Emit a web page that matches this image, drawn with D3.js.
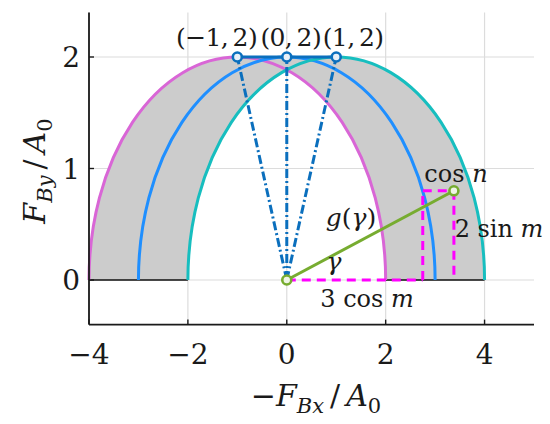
<!DOCTYPE html>
<html>
<head>
<meta charset="utf-8">
<script src="https://cdn.jsdelivr.net/npm/d3@7"></script>
<style>
  body { margin: 0; background: #fff; }
  text { font-family: "DejaVu Serif", "Liberation Serif", serif; fill: #1a1a1a; }
</style>
</head>
<body>
<svg id="chart" width="550" height="424"></svg>
<script>
// Axis limits and ticks
var xDomain = [-4, 5], yDomain = [-0.4, 2.4];
var xTicks = [-4, -2, 0, 2, 4];
var yTicks = [0, 1, 2];

// Half ellipses: centres along x, semi axes
var centers = [-1, 0, 1];
var semiX = 3, semiY = 2;
var curveColors = ["#d966d6", "#1f8fff", "#17bebf"];

// Top points (-1,2) (0,2) (1,2)
var peakX = [-1, 0, 1];
var peakY = 2;
var peakLabels = ["(\u22121,\u20092)", "(0,\u20092)", "(1,\u20092)"];

// Construction: g(gamma) end point and rectangle corner (3 cos m)
var gEnd = [3.38, 0.8];
var cosM3 = 2.75;

var svg = d3.select("#chart");
var x = d3.scaleLinear().domain(xDomain).range([89, 534]);
var y = d3.scaleLinear().domain(yDomain).range([324.6, 12.4]);

var rx = x(semiX) - x(0), ry = y(0) - y(semiY);

// Grid
svg.append("g").selectAll("line").data(xTicks).enter().append("line")
  .attr("x1", d => x(d)).attr("x2", d => x(d))
  .attr("y1", y(yDomain[0])).attr("y2", y(yDomain[1]))
  .attr("stroke", "#dcdcdc").attr("stroke-width", 1.2);
svg.append("g").selectAll("line").data(yTicks).enter().append("line")
  .attr("x1", x(xDomain[0])).attr("x2", x(xDomain[1]))
  .attr("y1", d => y(d)).attr("y2", d => y(d))
  .attr("stroke", "#dcdcdc").attr("stroke-width", 1.2);

// Gray band swept by the ellipses
var cLeft = centers[0], cRight = centers[2];
var crossY = semiY * Math.sqrt(1 - Math.pow((cRight - 0) / semiX, 2)); // where left and right ellipses meet at x=0
var band = "M" + x(cLeft - semiX) + "," + y(0)
  + " A" + rx + "," + ry + " 0 0 1 " + x(cLeft) + "," + y(semiY)
  + " L" + x(cRight) + "," + y(semiY)
  + " A" + rx + "," + ry + " 0 0 1 " + x(cRight + semiX) + "," + y(0)
  + " L" + x(cLeft + semiX) + "," + y(0)
  + " A" + rx + "," + ry + " 0 0 0 " + x(0) + "," + y(crossY)
  + " A" + rx + "," + ry + " 0 0 0 " + x(cRight - semiX) + "," + y(0) + " Z";
svg.append("path").attr("d", band).attr("fill", "#cccccc").attr("stroke", "none");

// Black bottom edges of the band
[[cLeft - semiX, cRight - semiX], [cLeft + semiX, cRight + semiX]].forEach(function(s) {
  svg.append("line")
    .attr("x1", x(s[0])).attr("x2", x(s[1]))
    .attr("y1", y(0)).attr("y2", y(0))
    .attr("stroke", "#111").attr("stroke-width", 1.4);
});

// Half ellipses
svg.append("g").selectAll("path").data(centers).enter().append("path")
  .attr("d", c => "M" + x(c - semiX) + "," + y(0) + " A" + rx + "," + ry + " 0 0 1 " + x(c + semiX) + "," + y(0))
  .attr("fill", "none")
  .attr("stroke", (c, i) => curveColors[i])
  .attr("stroke-width", 3);

// Dashed rectangle (3 cos m, 2 sin m)
var magenta = "#ff00ff";
var rectLines = [
  [0, 0, cosM3, 0],
  [cosM3, 0, cosM3, gEnd[1]],
  [cosM3, gEnd[1], gEnd[0], gEnd[1]],
  [gEnd[0], gEnd[1], gEnd[0], 0]
];
svg.append("g").selectAll("line").data(rectLines).enter().append("line")
  .attr("x1", d => x(d[0])).attr("y1", d => y(d[1]))
  .attr("x2", d => x(d[2])).attr("y2", d => y(d[3]))
  .attr("stroke", magenta).attr("stroke-width", 3)
  .attr("stroke-dasharray", "9,6");

// Dash-dot lines from origin to the top points
var dkBlue = "#0b6fbd";
svg.append("g").selectAll("line").data(peakX).enter().append("line")
  .attr("x1", x(0)).attr("y1", y(0))
  .attr("x2", d => x(d)).attr("y2", y(peakY))
  .attr("stroke", dkBlue).attr("stroke-width", 3)
  .attr("stroke-dasharray", "9,3,2,3");
svg.append("line")
  .attr("x1", x(d3.min(peakX))).attr("x2", x(d3.max(peakX)))
  .attr("y1", y(peakY)).attr("y2", y(peakY))
  .attr("stroke", dkBlue).attr("stroke-width", 3);
svg.append("g").selectAll("circle").data(peakX).enter().append("circle")
  .attr("cx", d => x(d)).attr("cy", y(peakY)).attr("r", 4.5)
  .attr("fill", "#e8f0f8").attr("stroke", dkBlue).attr("stroke-width", 2.6);

// g(gamma) line
var green = "#77ac30";
svg.append("line")
  .attr("x1", x(0)).attr("y1", y(0))
  .attr("x2", x(gEnd[0])).attr("y2", y(gEnd[1]))
  .attr("stroke", green).attr("stroke-width", 3);
svg.append("g").selectAll("circle").data([[0, 0], gEnd]).enter().append("circle")
  .attr("cx", d => x(d[0])).attr("cy", d => y(d[1])).attr("r", 4.5)
  .attr("fill", "#eef5e6").attr("stroke", green).attr("stroke-width", 2.6);

// Axes (left and bottom, inward ticks)
svg.append("line").attr("x1", x(xDomain[0])).attr("x2", x(xDomain[1]))
  .attr("y1", y(yDomain[0])).attr("y2", y(yDomain[0]))
  .attr("stroke", "#1a1a1a").attr("stroke-width", 1.8);
svg.append("line").attr("x1", x(xDomain[0])).attr("x2", x(xDomain[0]))
  .attr("y1", y(yDomain[0])).attr("y2", y(yDomain[1]))
  .attr("stroke", "#1a1a1a").attr("stroke-width", 1.8);
svg.append("g").selectAll("line").data(xTicks).enter().append("line")
  .attr("x1", d => x(d)).attr("x2", d => x(d))
  .attr("y1", y(yDomain[0])).attr("y2", y(yDomain[0]) - 5)
  .attr("stroke", "#1a1a1a").attr("stroke-width", 1.4);
svg.append("g").selectAll("line").data(yTicks).enter().append("line")
  .attr("x1", x(xDomain[0])).attr("x2", x(xDomain[0]) + 5)
  .attr("y1", d => y(d)).attr("y2", d => y(d))
  .attr("stroke", "#1a1a1a").attr("stroke-width", 1.4);

// Tick labels
svg.append("g").selectAll("text").data(xTicks).enter().append("text")
  .attr("x", d => x(d)).attr("y", 364)
  .attr("text-anchor", "middle").attr("font-size", 28)
  .text(d => d < 0 ? "\u2212" + Math.abs(d) : d);
svg.append("g").selectAll("text").data(yTicks).enter().append("text")
  .attr("x", 80).attr("y", d => y(d) + 10)
  .attr("text-anchor", "end").attr("font-size", 28)
  .text(d => d);

// Math-ish text helper: parts = [text, italic?, subscript?, back to baseline?]
function mathText(g, parts, size) {
  var t = g.append("text").attr("font-size", size);
  parts.forEach(function(p) {
    var s = t.append("tspan").text(p[0]);
    if (p[1]) s.attr("font-style", "italic");
    if (p[2]) s.attr("font-size", size * 0.7).attr("dy", size * 0.22);
    if (p[3]) s.attr("dy", -size * 0.22);
  });
  return t;
}

// Axis labels
mathText(svg, [["\u2212"], ["F", true], ["Bx", true, true], ["\u2009/\u2009", false, false, true], ["A", true], ["0", false, true]], 30)
  .attr("x", 316).attr("y", 406).attr("text-anchor", "middle");
mathText(svg, [["F", true], ["By", true, true], ["\u2009/\u2009", false, false, true], ["A", true], ["0", false, true]], 30)
  .attr("text-anchor", "middle")
  .attr("transform", "translate(45,171) rotate(-90)");

// Point labels
var peakLabelX = [-1.42, 0.08, 1.34];
svg.append("g").selectAll("text").data(peakLabels).enter().append("text")
  .attr("x", (d, i) => x(peakLabelX[i])).attr("y", 46)
  .attr("text-anchor", "middle").attr("font-size", 25)
  .attr("letter-spacing", -0.6)
  .text(d => d);

// Construction labels
mathText(svg, [["cos"], [" n", true]], 24).attr("x", 456).attr("y", 182).attr("text-anchor", "middle");
mathText(svg, [["g", true], ["("], ["\u03b3", true], [")"]], 25).attr("x", 351).attr("y", 226).attr("text-anchor", "middle");
mathText(svg, [["\u03b3", true]], 25).attr("x", 334).attr("y", 270).attr("text-anchor", "middle");
mathText(svg, [["3 cos"], [" m", true]], 24).attr("x", 367).attr("y", 307).attr("text-anchor", "middle");
mathText(svg, [["2 sin"], [" m", true]], 24).attr("x", 499).attr("y", 237).attr("text-anchor", "middle");
</script>
</body>
</html>
